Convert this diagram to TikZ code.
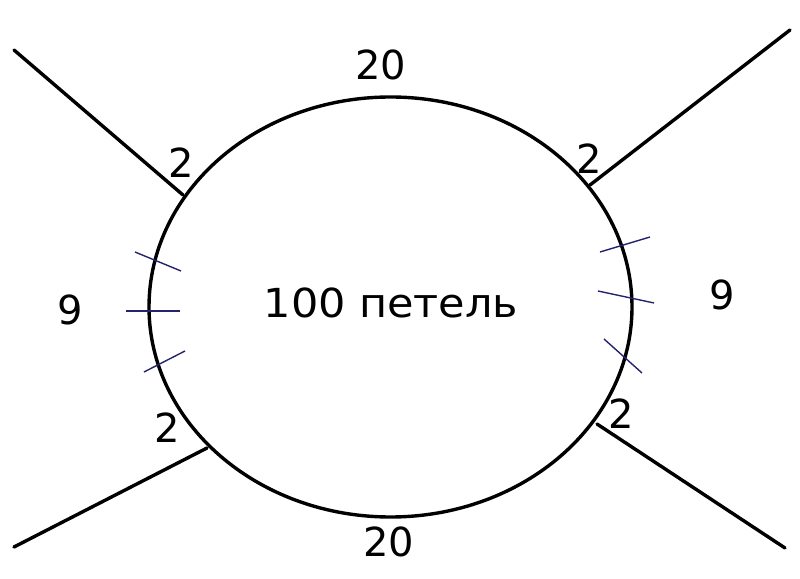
\documentclass[tikz,border=0pt]{standalone}
\usepackage{fontspec}
\setmainfont{DejaVu Sans}
\usetikzlibrary{shapes.geometric}
\definecolor{tickblue}{RGB}{35,35,110}
\begin{document}
\begin{tikzpicture}[x=1pt,y=1pt,
  lbl/.style={inner sep=0pt,anchor=center,font=\fontsize{40}{40}\selectfont},
  thick line/.style={line width=3.4pt,line cap=round},
  tickmark/.style={line width=1.4pt,draw=tickblue}]
\useasboundingbox (0,0) rectangle (800,578);
% ellipse
\node[draw,ellipse,line width=3.4pt,minimum width=483pt,minimum height=420pt,inner sep=0pt] (E) at (390.5,271) {};
% lines
\coordinate (tlA) at (14,528); \coordinate (tlB) at (183,383);
\coordinate (trA) at (790,548); \coordinate (trB) at (590,393);
\coordinate (blA) at (14,31);  \coordinate (blB) at (207,130);
\coordinate (brA) at (785,30); \coordinate (brB) at (597,154);
\draw[thick line] (tlA) -- (tlB);
\draw[thick line] (trA) -- (trB);
\draw[thick line] (blA) -- (blB);
\draw[thick line] (brA) -- (brB);
% ticks
\coordinate (l1a) at (135,326); \coordinate (l1b) at (181,307);
\coordinate (l2a) at (126,267); \coordinate (l2b) at (180,267);
\coordinate (l3a) at (144,206); \coordinate (l3b) at (185,227);
\coordinate (r1a) at (600,326); \coordinate (r1b) at (650,341);
\coordinate (r2a) at (598,287); \coordinate (r2b) at (654,275);
\coordinate (r3a) at (604,239); \coordinate (r3b) at (642,205);
\draw[tickmark] (l1a) -- (l1b);
\draw[tickmark] (l2a) -- (l2b);
\draw[tickmark] (l3a) -- (l3b);
\draw[tickmark] (r1a) -- (r1b);
\draw[tickmark] (r2a) -- (r2b);
\draw[tickmark] (r3a) -- (r3b);
% labels
\node[lbl,xscale=1.075] (main) at (391,275) {100 петель};
\node[lbl] (top) at (381,513) {20};
\node[lbl] (bot) at (389,36) {20};
\node[lbl] (nl) at (70,268) {9};
\node[lbl] (nr) at (722,283) {9};
\node[lbl] (t1) at (181,415) {2};
\node[lbl] (t2) at (589,419) {2};
\node[lbl] (t3) at (167,150) {2};
\node[lbl] (t4) at (621,164) {2};
\end{tikzpicture}
\end{document}
